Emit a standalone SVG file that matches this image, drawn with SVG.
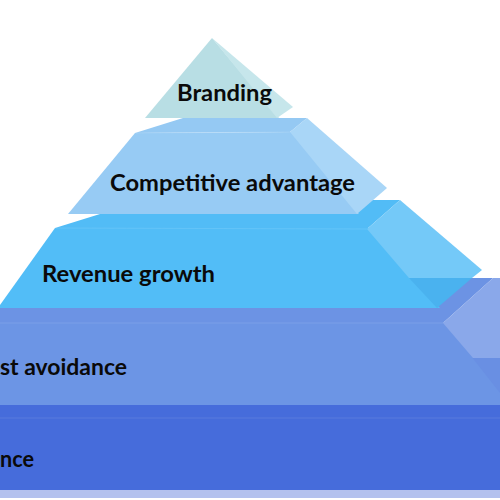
<svg xmlns="http://www.w3.org/2000/svg" width="500" height="500" viewBox="0 0 500 500">
<style>
.lbl{font-family:Lato,"Liberation Sans",sans-serif;font-weight:700;font-size:22px;fill:#0a0a0a}
.edge{stroke:#ffffff;stroke-opacity:0.1;stroke-width:1;fill:none}
</style>
<rect width="500" height="500" fill="#ffffff"/>
<g id="tier5">
<rect x="0" y="490" width="500" height="8" fill="#b3c1ee"/>
<rect x="0" y="390" width="500" height="100" fill="#466cdb"/>
<line class="edge" x1="0" y1="418" x2="500" y2="418"/>
<text class="lbl" x="0" y="467" textLength="34" lengthAdjust="spacingAndGlyphs">nce</text>
</g>
<g id="tier4">
<polygon points="-20,323 40,278 493,278 443,323" fill="#6c93e4"/>
<rect x="0" y="322.5" width="500" height="82.5" fill="#6c95e5"/>
<polygon points="443,323 493,278 500,278 500,358 473,358" fill="#8aa8ea"/>
<polygon points="472.5,358 500,358 500,393" fill="#698fe3"/>
<line class="edge" x1="0" y1="323" x2="443" y2="323"/>
<text class="lbl" x="0" y="375" textLength="127" lengthAdjust="spacingAndGlyphs">st avoidance</text>
</g>
<g id="tier3">
<polygon points="55,228 145,200 400,200 367,229" fill="#52bcf6"/>
<polygon points="55,228 370,228 440,308 0,308 0,305" fill="#52bdf7"/>
<polygon points="367,229 400,200 482,270 472,278 409,278" fill="#74c9f8"/>
<polygon points="409,278 472,278 437,308" fill="#4ab2ef"/>
<line class="edge" x1="55" y1="228" x2="367" y2="229"/>
<text class="lbl" x="42" y="282" textLength="173" lengthAdjust="spacingAndGlyphs">Revenue growth</text>
</g>
<g id="tier2">
<polygon points="135,133 183,118 307,118 290,132" fill="#95c9f3"/>
<polygon points="135,133 292,132 359,214 68,214" fill="#97cbf4"/>
<polygon points="290,132 307,118 387,188 357,214" fill="#a9d6f7"/>
<line class="edge" x1="135" y1="133" x2="290" y2="132"/>
<text class="lbl" x="110" y="191" textLength="245" lengthAdjust="spacingAndGlyphs">Competitive advantage</text>
</g>
<g id="tier1">
<polygon points="212,38 145,118 279,118" fill="#b8dee4"/>
<polygon points="212,38 293,107 277,118" fill="#c6e6eb"/>
<text class="lbl" x="177" y="101" textLength="95" lengthAdjust="spacingAndGlyphs">Branding</text>
</g>
</svg>
